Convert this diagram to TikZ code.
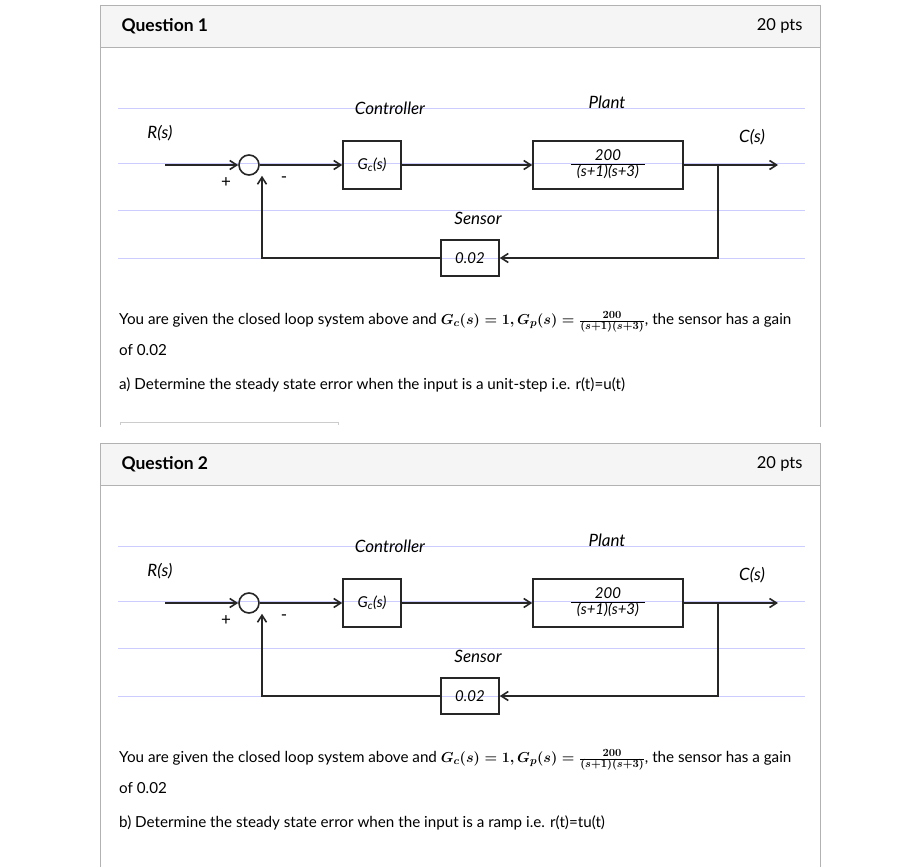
\documentclass[tikz,border=0pt]{standalone}
\usepackage{fontspec}
\setmainfont{Lato}
\usepackage{amsmath,amsbsy}
\usetikzlibrary{arrows.meta}
\tikzset{
 hand/.style={line width=1.6pt, draw=black!85},
 harr/.style={hand, -{Straight Barb[length=7pt,width=9pt]}},
 blk/.style={hand, minimum width=#1, minimum height=48pt, inner sep=0pt},
 paper/.style={draw=blue!20, line width=0.6pt},
 lbl/.style={font=\itshape\fontsize{17}{17}\selectfont},
 box/.style={font=\itshape\fontsize{15}{17}\selectfont},
 body/.style={anchor=west, font=\fontsize{15.2}{17}\selectfont, inner sep=0pt},
}
\newcommand\qpanel[4]{%
\begin{scope}[yshift=-#2]
 \draw[gray!60, fill=black!4] (100,5) rectangle (820,47);
 \node[anchor=west, font=\bfseries\fontsize{17.5}{17.5}\selectfont] (qt#1) at (118,26) {Question #1};
 \node[anchor=east, font=\fontsize{16.5}{16.5}\selectfont] (pt#1) at (806,26) {20 pts};
 \foreach \yy in {108,163,210,258} \draw[paper] (118,\yy) -- (805,\yy);
 \node[lbl] (r#1) at (160,133) {R(s)};
 \node[lbl] (c#1) at (752,137) {C(s)};
 \node[lbl] (ctl#1) at (390,108) {Controller};
 \node[lbl] (pl#1) at (607,102) {Plant};
 \node[lbl] (se#1) at (478,218) {Sensor};
 \coordinate (in#1) at (165,165);
 \node[hand, circle, minimum size=20pt, inner sep=0pt] (sum#1) at (249,165) {};
 \node[font=\fontsize{17}{17}\selectfont] (plus#1) at (226,183) {+};
 \node[font=\fontsize{17}{17}\selectfont] (minus#1) at (284,180) {-};
 \node[blk=58pt, box] (gc#1) at (372,165) {G\textsubscript{c}(s)};
 \node[blk=150pt, box] (gp#1) at (608,165) {\begin{tabular}{c}200\\[-1pt]\hline (s+1)(s+3)\end{tabular}};
 \node[hand, box, minimum width=58pt, minimum height=36pt, inner sep=0pt] (h#1) at (470,258) {0.02};
 \coordinate (out#1) at (778,165);
 \coordinate (br#1) at (718,165);
 \coordinate (bb#1) at (718,258);
 \coordinate (fb#1) at (262,258);
 \draw[harr] (in#1) -- (sum#1);
 \draw[harr] (sum#1) -- (gc#1);
 \draw[harr] (gc#1) -- (gp#1);
 \draw[harr] (gp#1.east) -- (out#1);
 \draw[harr] (br#1) -- (bb#1) -- (h#1.east);
 \draw[harr] (h#1.west) -- (fb#1) -- (fb#1 |- sum#1.south);
 \node[body] (t1#1) at (119,322) {You are given the closed loop system above and $\boldsymbol{G_c(s)=1, G_p(s)=\frac{200}{(s+1)(s+3)}}$, the sensor has a gain};
 \node[body] (t2#1) at (119,350) {of 0.02};
 \node[body] (t3#1) at (119,385) {#3};
 #4
\end{scope}}
\begin{document}
\begin{tikzpicture}[x=1pt,y=-1pt]
\useasboundingbox (0,0) rectangle (899,867);
\fill[white] (0,0) rectangle (899,867);
\draw[gray!60] (100,5) -- (100,427);
\draw[gray!60] (820,5) -- (820,427);
\draw[gray!60] (100,443) -- (100,867);
\draw[gray!60] (820,443) -- (820,867);
\qpanel{1}{0}{a) Determine the steady state error when the input is a unit-step i.e. r(t)=u(t)}{\draw[gray!40] (120,425) -- (120,422) -- (338,422) -- (338,425);}
\qpanel{2}{438}{b) Determine the steady state error when the input is a ramp i.e. r(t)=tu(t)}{}
\end{tikzpicture}
\end{document}
